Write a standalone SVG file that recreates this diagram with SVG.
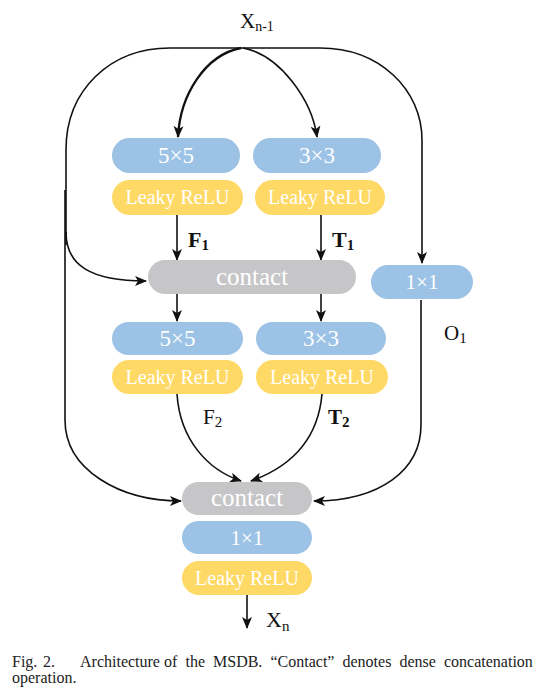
<svg xmlns="http://www.w3.org/2000/svg" width="544" height="694" viewBox="0 0 544 694" font-family="'Liberation Serif', 'Times New Roman', 'DejaVu Serif', serif">
<style>
.blue{fill:#9cc2e5}
.yel{fill:#ffd966}
.gray{fill:#c6c6c8}
.bt{fill:#fff;text-anchor:middle}
.lbl{fill:#111}
.ln{fill:none;stroke:#111;stroke-width:1.6}
.cap{font-size:16px;fill:#222}
</style>
<defs>
<marker id="ah" markerUnits="userSpaceOnUse" markerWidth="12" markerHeight="10" refX="11" refY="5" orient="auto">
<path d="M0,0 L12,5 L0,10 L3,5 Z" fill="#111"/>
</marker>
</defs>
<rect width="544" height="694" fill="#fff"/>
<g id="connectors">
<path class="ln" d="M66,245 L66,150 C66,90 110,48 170,48 L320,48 C380,48 422,90 422,140 L422,263" marker-end="url(#ah)"/>
<path class="ln" d="M66,232 C66,265 90,281 146,281" marker-end="url(#ah)"/>
<path class="ln" d="M65,190 L65,420 C65,470 120,501 181,501" marker-end="url(#ah)"/>
<path class="ln" d="M421,300 L421,425 C421,470 380,501 314,501" marker-end="url(#ah)"/>
<path class="ln" style="stroke-width:2.3" d="M241,48 C205,55 180,95 178,137" marker-end="url(#ah)"/>
<path class="ln" d="M243,48 C280,55 312,100 317,137" marker-end="url(#ah)"/>
<path class="ln" d="M177,215 L177,260" marker-end="url(#ah)"/>
<path class="ln" d="M321,215 L321,260" marker-end="url(#ah)"/>
<path class="ln" d="M177,294 L177,321" marker-end="url(#ah)"/>
<path class="ln" d="M321,294 L321,321" marker-end="url(#ah)"/>
<path class="ln" d="M177,394 C180,440 208,470 241,481" marker-end="url(#ah)"/>
<path class="ln" d="M322,394 C318,440 290,467 251,481" marker-end="url(#ah)"/>
<path class="ln" d="M247,595 L247,628" marker-end="url(#ah)"/>
</g>
<g id="conv5a"><rect class="blue" x="112" y="138" width="128" height="35" rx="17.5"/><text class="bt" x="176" y="163" font-size="23">5×5</text></g>
<g id="conv3a"><rect class="blue" x="253" y="138" width="128" height="35" rx="17.5"/><text class="bt" x="317" y="163" font-size="23">3×3</text></g>
<g id="relu5a"><rect class="yel" x="112" y="180" width="131" height="35" rx="17.5"/><text class="bt" x="177.5" y="204" font-size="20">Leaky ReLU</text></g>
<g id="relu3a"><rect class="yel" x="255" y="180" width="130" height="35" rx="17.5"/><text class="bt" x="320" y="204" font-size="20">Leaky ReLU</text></g>
<g id="contact1"><rect class="gray" x="148" y="260" width="208" height="34" rx="17"/><text class="bt" x="252" y="285" font-size="25">contact</text></g>
<g id="conv1a"><rect class="blue" x="371" y="265" width="102" height="34" rx="17"/><text class="bt" x="422" y="289" font-size="21">1×1</text></g>
<g id="conv5b"><rect class="blue" x="112" y="322" width="131" height="33" rx="16.5"/><text class="bt" x="177.5" y="346" font-size="23">5×5</text></g>
<g id="conv3b"><rect class="blue" x="256" y="322" width="130" height="33" rx="16.5"/><text class="bt" x="321" y="346" font-size="23">3×3</text></g>
<g id="relu5b"><rect class="yel" x="112" y="360" width="131" height="34" rx="17"/><text class="bt" x="177.5" y="384" font-size="20">Leaky ReLU</text></g>
<g id="relu3b"><rect class="yel" x="256" y="360" width="132" height="34" rx="17"/><text class="bt" x="322" y="384" font-size="20">Leaky ReLU</text></g>
<g id="contact2"><rect class="gray" x="182" y="482" width="130" height="33" rx="16.5"/><text class="bt" x="247" y="506" font-size="25">contact</text></g>
<g id="conv1b"><rect class="blue" x="182" y="521" width="130" height="33" rx="16.5"/><text class="bt" x="247" y="545" font-size="21">1×1</text></g>
<g id="relu_out"><rect class="yel" x="182" y="561" width="130" height="34" rx="17"/><text class="bt" x="247" y="585" font-size="20">Leaky ReLU</text></g>
<g id="labels">
<text class="lbl" x="240" y="28" font-size="21">X<tspan font-size="14" dy="3">n-1</tspan></text>
<text class="lbl" x="188" y="247" font-size="22" font-weight="bold">F<tspan font-size="15" dy="3">1</tspan></text>
<text class="lbl" x="332" y="247" font-size="22" font-weight="bold">T<tspan font-size="15" dy="3">1</tspan></text>
<text class="lbl" x="444" y="340" font-size="21">O<tspan font-size="15" dy="3">1</tspan></text>
<text class="lbl" x="203" y="424" font-size="21">F<tspan font-size="15" dy="3">2</tspan></text>
<text class="lbl" x="328" y="424" font-size="21" font-weight="bold">T<tspan font-size="15" dy="3">2</tspan></text>
<text class="lbl" x="266" y="627" font-size="22">X<tspan font-size="15" dy="4">n</tspan></text>
</g>
<g id="caption">
<text class="cap" y="667"><tspan x="12">Fig.</tspan><tspan x="43">2.</tspan><tspan x="80">Architecture</tspan><tspan x="164">of</tspan><tspan x="185.5">the</tspan><tspan x="213">MSDB.</tspan><tspan x="270.5">“Contact”</tspan><tspan x="342.5">denotes</tspan><tspan x="399.5">dense</tspan><tspan x="444">concatenation</tspan></text>
<text class="cap" x="12" y="683">operation.</text>
</g>
</svg>
